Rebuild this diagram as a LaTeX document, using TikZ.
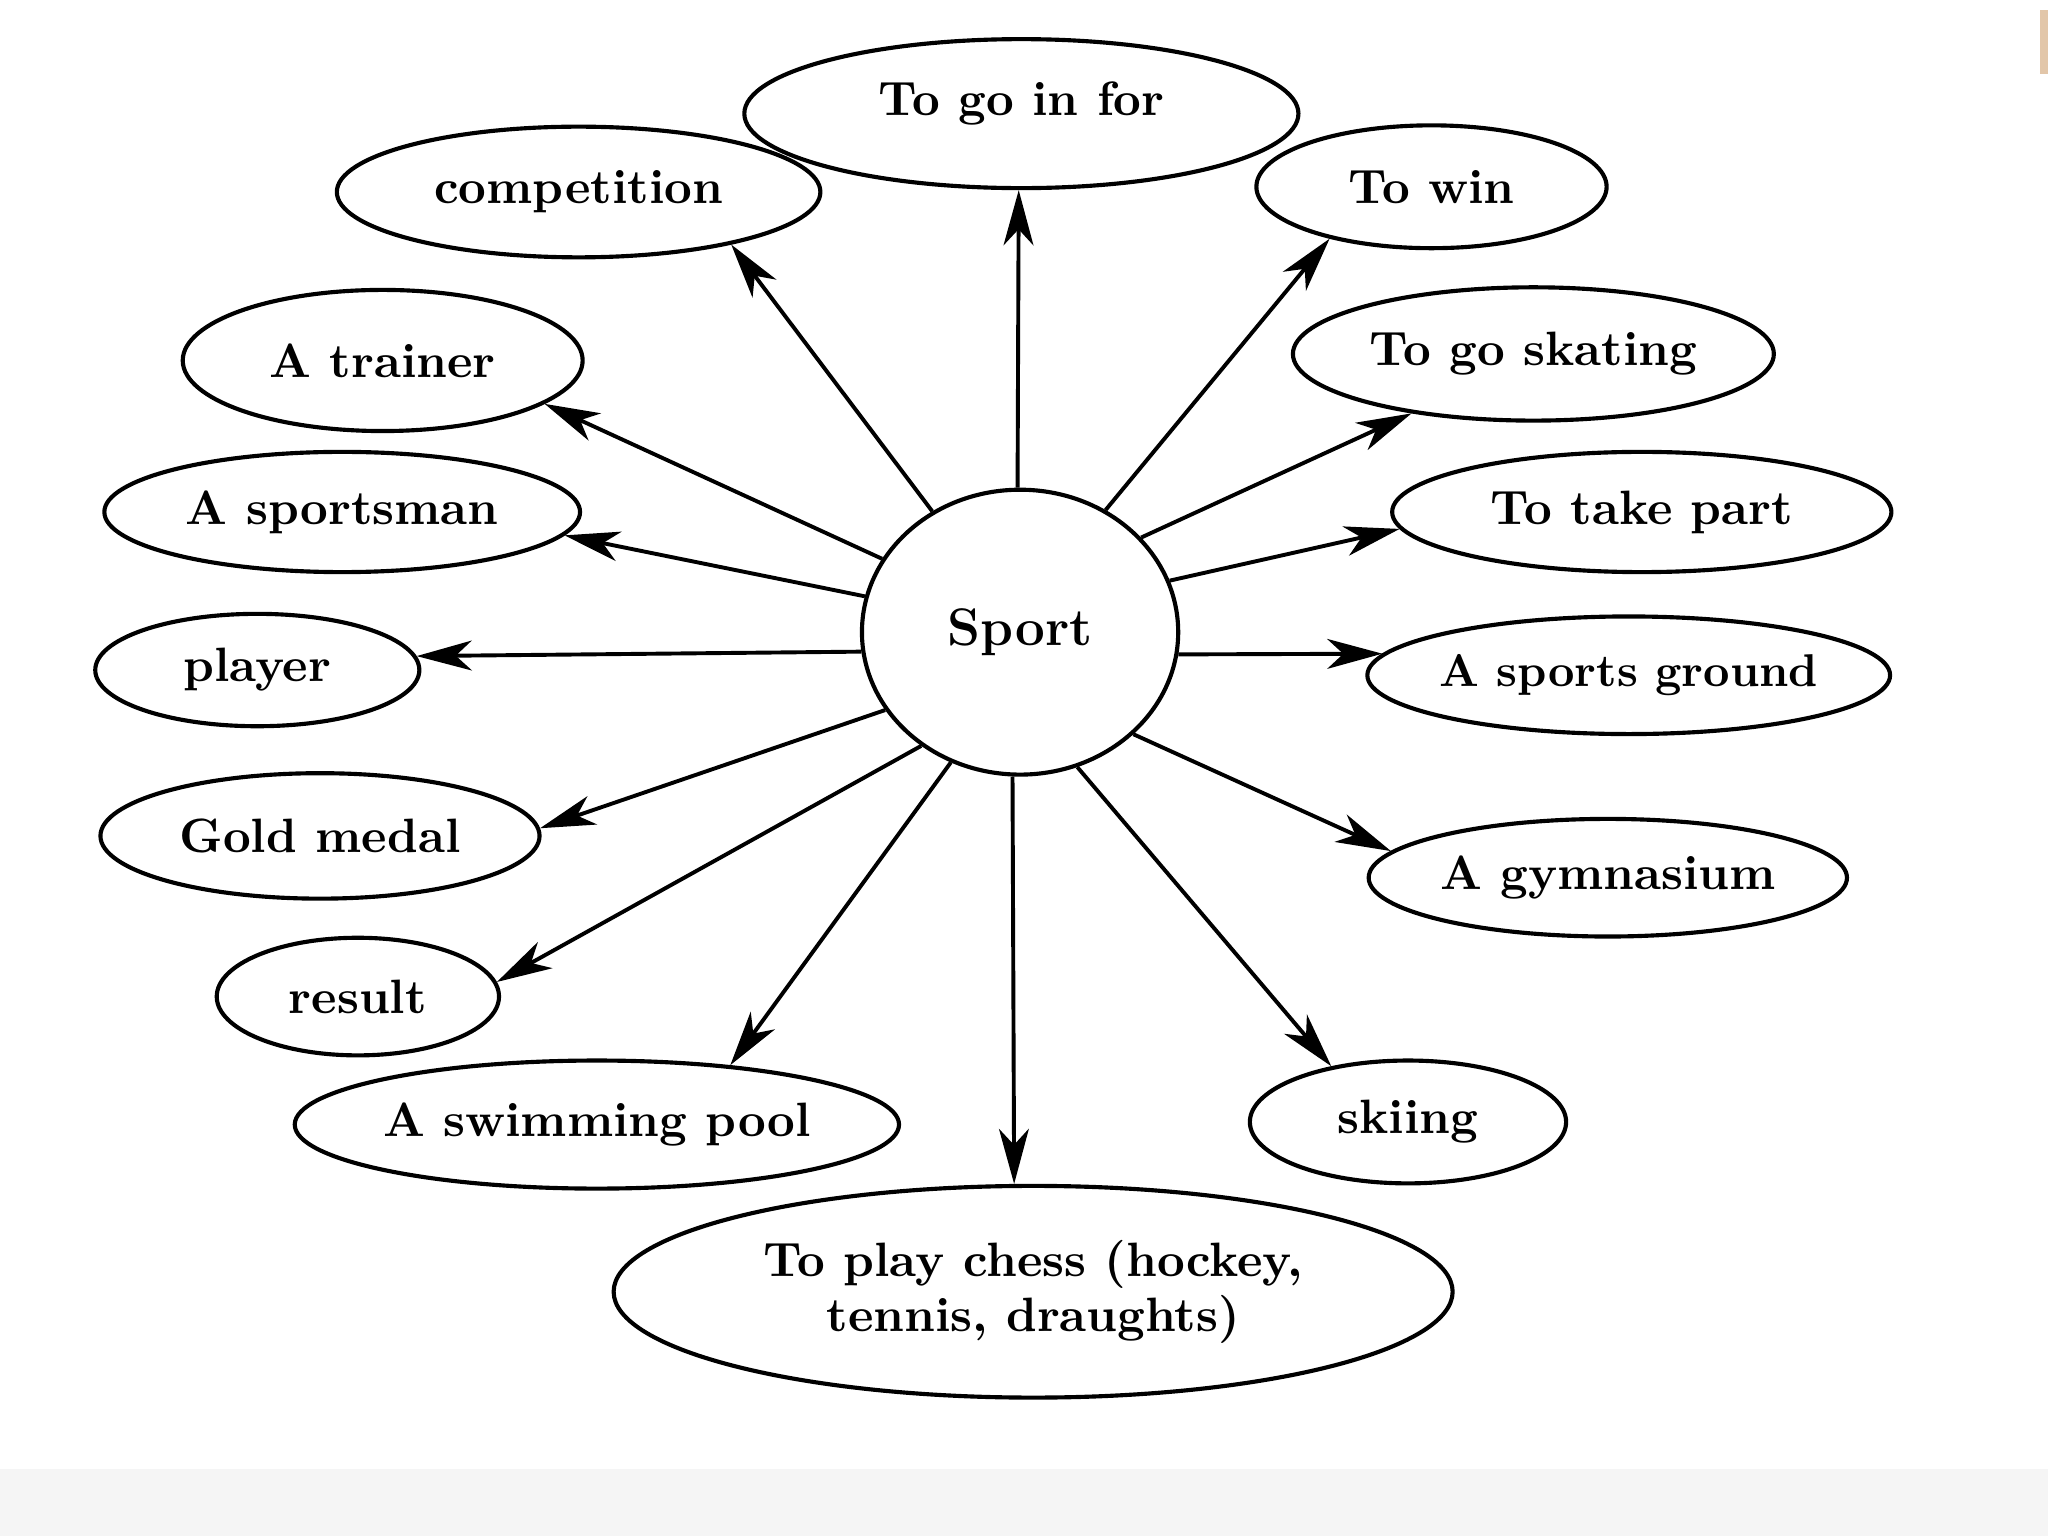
\documentclass[tikz,border=0pt]{standalone}
\usetikzlibrary{shapes.geometric,arrows.meta}
\begin{document}
\begin{tikzpicture}[x=0.01cm,y=-0.01cm,
  bub/.style={draw,ellipse,line width=0.9pt,inner sep=0pt,align=center,font=\fontsize{10.5}{12}\selectfont\bfseries},
  lab/.style={font=\fontsize{10.5}{12}\selectfont\bfseries,inner sep=0pt},
  arr/.style={line width=0.85pt,-{Stealth[length=12pt,width=6.5pt,inset=3.5pt]}}]
\useasboundingbox (0,0) rectangle (1568,1176);
\fill[gray!8] (0,1125) rectangle (1568,1176);
\fill[brown!45!white] (1562,8) rectangle (1568,57);
\node[bub,minimum width=2.42cm,minimum height=2.18cm,font=\fontsize{11.5}{13}\selectfont\bfseries] (sport) at (781,484) {Sport};
\node[bub,minimum width=4.24cm,minimum height=1.14cm,label={[lab,yshift=0.08cm]center:To go in for}] (goin) at (782,87) {};
\node[bub,minimum width=3.70cm,minimum height=1.00cm] (comp) at (443,147) {competition};
\node[bub,minimum width=2.68cm,minimum height=0.94cm] (win) at (1096,143) {To win};
\node[bub,minimum width=3.06cm,minimum height=1.08cm] (trainer) at (293,276) {A trainer};
\node[bub,minimum width=3.68cm,minimum height=1.02cm] (skating) at (1174,271) {To go skating};
\node[bub,minimum width=3.64cm,minimum height=0.92cm] (sportsman) at (262,392) {A sportsman};
\node[bub,minimum width=3.82cm,minimum height=0.92cm] (part) at (1257,392) {To take part};
\node[bub,minimum width=2.48cm,minimum height=0.86cm] (player) at (197,513) {player};
\node[bub,minimum width=4.00cm,minimum height=0.90cm,label={[lab,font=\fontsize{10}{12}\selectfont\bfseries]center:A sports ground}] (ground) at (1247,517) {};
\node[bub,minimum width=3.36cm,minimum height=0.96cm] (gold) at (245,640) {Gold medal};
\node[bub,minimum width=3.66cm,minimum height=0.90cm] (gym) at (1231,672) {A gymnasium};
\node[bub,minimum width=2.16cm,minimum height=0.90cm] (result) at (274,763) {result};
\node[bub,minimum width=4.54cm,minimum height=0.98cm] (pool) at (457,861) {A swimming pool};
\node[bub,minimum width=2.42cm,minimum height=0.94cm] (skiing) at (1078,859) {skiing};
\node[bub,minimum width=6.42cm,minimum height=1.62cm] (chess) at (791,989) {To play chess (hockey,\\tennis, draughts)};
\draw[arr] (sport.91.6) -- (goin.268);
\draw[arr] (sport.126.9) -- (comp.341.3);
\draw[arr] (sport.55.8) -- (win.207.2);
\draw[arr] (sport.152.8) -- (trainer.345);
\draw[arr] (sport.38.8) -- (skating.206.6);
\draw[arr] (sport.167.9) -- (sportsman.354.6);
\draw[arr] (sport.19.3) -- (part.184);
\draw[arr] (sport.187.5) -- (player.5.8);
\draw[arr] (sport.352.5) -- (ground.175.2);
\draw[arr] (sport.210.4) -- (gold.2.7);
\draw[arr] (sport.318.8) -- (gym.173.6);
\draw[arr] (sport.229.5) -- (result.6.8);
\draw[arr] (sport.242.8) -- (pool.24);
\draw[arr] (sport.293.4) -- (skiing.144.7);
\draw[arr] (sport.267) -- (chess.100.8);
\end{tikzpicture}
\end{document}
